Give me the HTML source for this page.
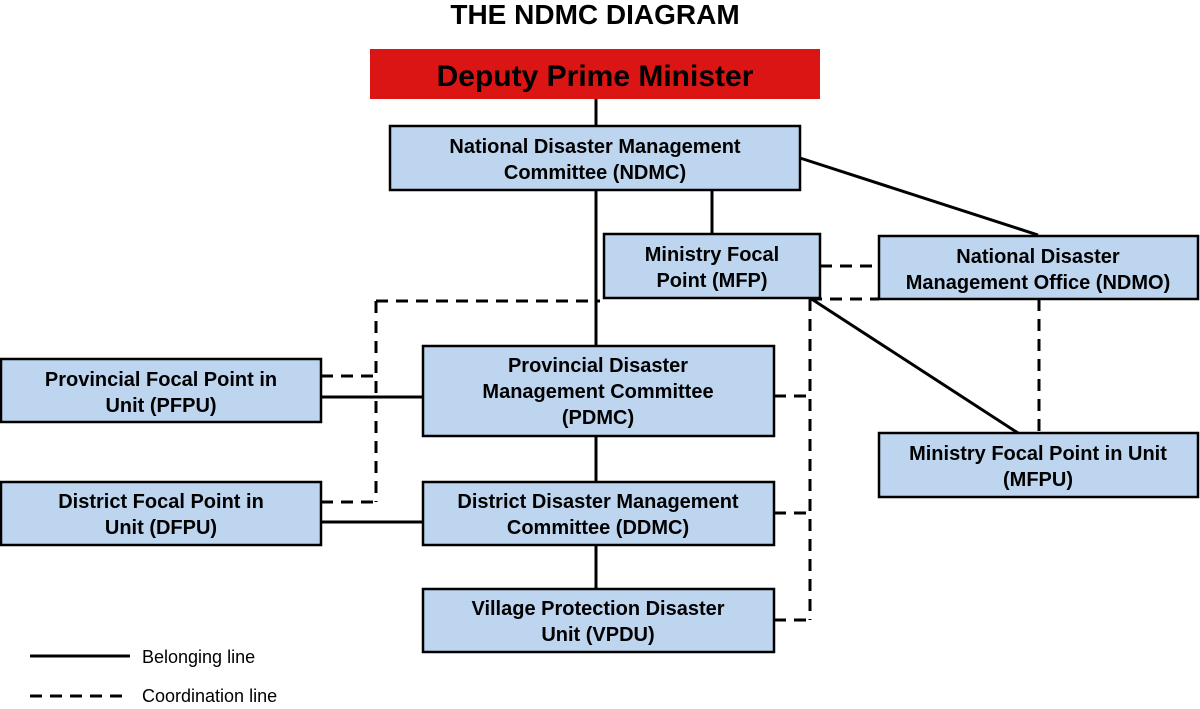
<!DOCTYPE html>
<html><head><meta charset="utf-8"><style>
body{margin:0;background:#fff}
svg text{font-family:"Liberation Sans",Arial,sans-serif;font-weight:bold;fill:#000}
</style></head><body>
<svg width="1200" height="704" xmlns="http://www.w3.org/2000/svg">
<rect width="1200" height="704" fill="#fff"/>
<text x="595" y="24" font-size="28" text-anchor="middle">THE NDMC DIAGRAM</text>
<g stroke="#000" stroke-width="3" fill="none">
<line x1="596" y1="99" x2="596" y2="126"/>
<line x1="596" y1="190" x2="596" y2="346"/>
<line x1="596" y1="436" x2="596" y2="482"/>
<line x1="596" y1="545" x2="596" y2="589"/>
<line x1="712" y1="190" x2="712" y2="234"/>
<line x1="800" y1="158" x2="1038" y2="235"/>
<line x1="810" y1="298" x2="1018" y2="433"/>
<line x1="321" y1="397" x2="423" y2="397"/>
<line x1="321" y1="522" x2="423" y2="522"/>
<line x1="30" y1="656" x2="130" y2="656"/>
</g>
<g stroke="#000" stroke-width="3" fill="none" stroke-dasharray="12,8">
<line x1="820" y1="266" x2="879" y2="266"/>
<line x1="810" y1="299" x2="879" y2="299"/>
<line x1="1039" y1="299" x2="1039" y2="433"/>
<line x1="810" y1="299" x2="810" y2="620"/>
<line x1="774" y1="396" x2="810" y2="396"/>
<line x1="774" y1="513" x2="810" y2="513"/>
<line x1="774" y1="620" x2="810" y2="620"/>
<line x1="376" y1="301" x2="600" y2="301"/>
<line x1="376" y1="301" x2="376" y2="502"/>
<line x1="321" y1="376" x2="376" y2="376"/>
<line x1="321" y1="502" x2="376" y2="502"/>
<line x1="30" y1="696" x2="130" y2="696"/>
</g>
<rect x="370" y="49" width="450" height="50" fill="#db1414"/>
<text x="595" y="86" font-size="30" text-anchor="middle">Deputy Prime Minister</text>
<g fill="#bdd5ee" stroke="#000" stroke-width="2.5">
<rect x="390" y="126" width="410" height="64"/>
<rect x="604" y="234" width="216" height="64"/>
<rect x="879" y="236" width="319" height="63"/>
<rect x="879" y="433" width="319" height="64"/>
<rect x="423" y="346" width="351" height="90"/>
<rect x="423" y="482" width="351" height="63"/>
<rect x="423" y="589" width="351" height="63"/>
<rect x="1" y="359" width="320" height="63"/>
<rect x="1" y="482" width="320" height="63"/>
</g>
<g font-size="20" text-anchor="middle">
<text x="595" y="153">National Disaster Management</text>
<text x="595" y="179">Committee (NDMC)</text>
<text x="712" y="261">Ministry Focal</text>
<text x="712" y="287">Point (MFP)</text>
<text x="1038" y="263">National Disaster</text>
<text x="1038" y="289">Management Office (NDMO)</text>
<text x="1038" y="460">Ministry Focal Point in Unit</text>
<text x="1038" y="486">(MFPU)</text>
<text x="598" y="372">Provincial Disaster</text>
<text x="598" y="398">Management Committee</text>
<text x="598" y="424">(PDMC)</text>
<text x="598" y="508">District Disaster Management</text>
<text x="598" y="534">Committee (DDMC)</text>
<text x="598" y="615">Village Protection Disaster</text>
<text x="598" y="641">Unit (VPDU)</text>
<text x="161" y="386">Provincial Focal Point in</text>
<text x="161" y="412">Unit (PFPU)</text>
<text x="161" y="508">District Focal Point in</text>
<text x="161" y="534">Unit (DFPU)</text>
</g>
<text x="142" y="663" font-size="18" style="font-weight:normal">Belonging line</text>
<text x="142" y="702" font-size="18" style="font-weight:normal">Coordination line</text>
</svg>
</body></html>
